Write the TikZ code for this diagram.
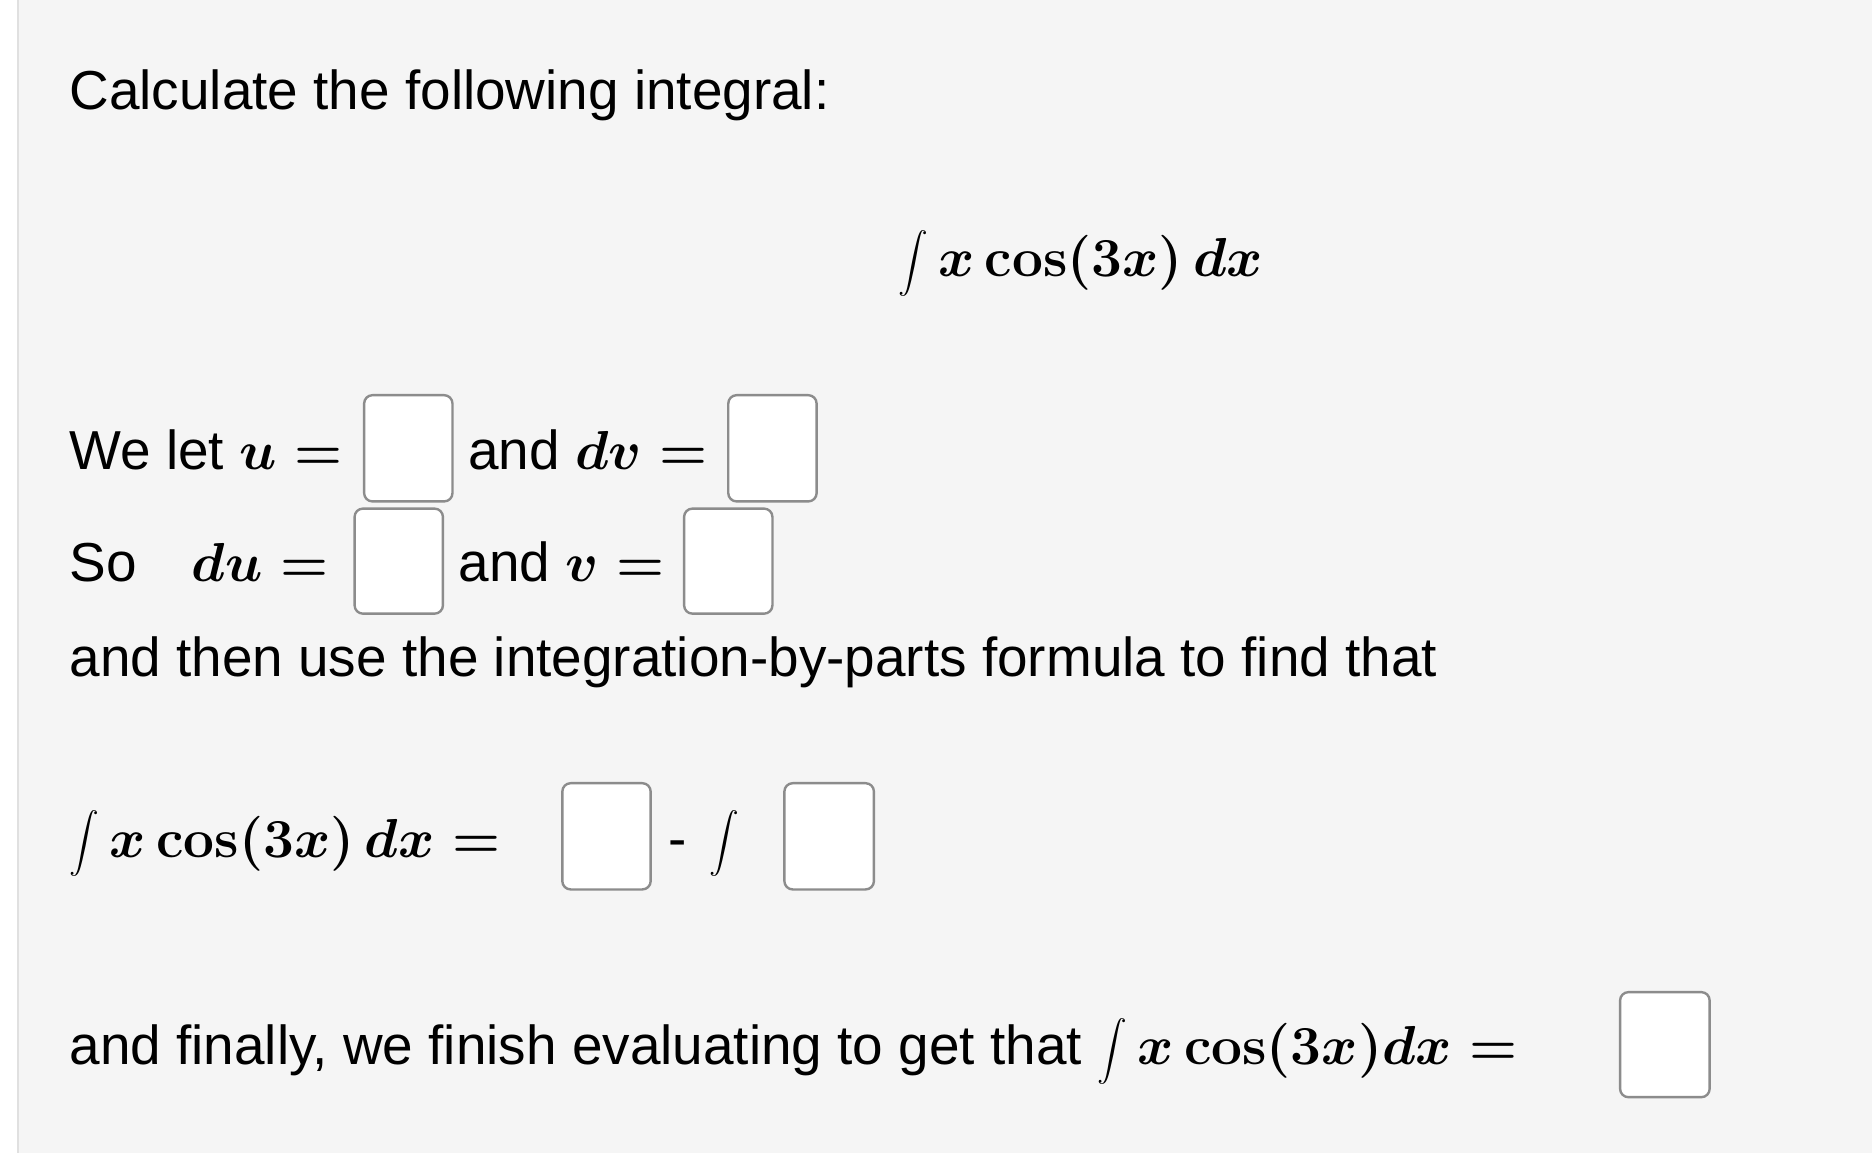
\RequirePackage{fix-cm}
\documentclass[tikz,border=0pt]{standalone}
\usepackage{amsmath}
\usepackage[no-math]{fontspec}
\setmainfont{Liberation Sans}
\DeclareMathSizes{46}{46}{32}{23}
\begin{document}
\begin{tikzpicture}[x=1pt,y=-1pt,
  txt/.style={anchor=base west,inner sep=0pt,font=\fontsize{46}{54}\selectfont\boldmath},
  ansbox/.style={draw=black!45,line width=2pt,rounded corners=7pt,fill=white}]
\useasboundingbox (0,0) rectangle (1568,966);
\fill[white] (0,0) rectangle (1568,966);
\fill[black!4] (15,0) rectangle (1568,966);
\draw[black!12,line width=2pt] (15,0) -- (15,966);
\node[txt] (t1) at (58,92) {Calculate the following integral:};
\node[txt] (i1) at (752,232) {$\displaystyle\int x\cos(3x)\,dx$};
\node[txt] (t2) at (58,393) {We let $u=$};
\draw[ansbox] (305,331) rectangle (379,420);
\node[txt] (t3) at (392,393) {and $dv=$};
\draw[ansbox] (610,331) rectangle (684,420);
\node[txt] (t4) at (58,487) {So\quad $du=$};
\draw[ansbox] (297,426) rectangle (371,514);
\node[txt] (t5) at (384,487) {and $v=$};
\draw[ansbox] (573,426) rectangle (647,514);
\node[txt] (t6) at (58,567) {and then use the integration-by-parts formula to find that};
\node[txt] (i2) at (58,718) {$\displaystyle\int x\cos(3x)\,dx=$};
\draw[ansbox] (471,656) rectangle (545,745);
\node[txt] (m) at (560,718) {-};
\node[txt] (i3) at (594,718) {$\displaystyle\int$};
\draw[ansbox] (657,656) rectangle (732,745);
\node[txt] (t7) at (58,892) {and finally, we finish evaluating to get that $\displaystyle\int x\cos(3x)dx=$};
\draw[ansbox] (1357,831) rectangle (1432,919);
\end{tikzpicture}
\end{document}
